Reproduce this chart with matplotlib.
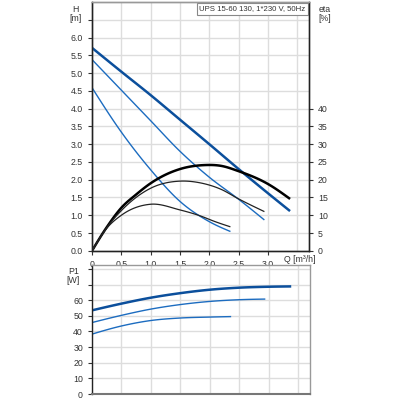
import matplotlib
matplotlib.use("Agg")
import matplotlib.pyplot as plt
import numpy as np

plt.rcParams['font.family'] = ['Liberation Sans', 'DejaVu Sans']

# Kennlinien UPS 15-60 130 (drei Drehzahlstufen)
q_h3 = [0, 0.5, 1.0, 1.5, 2.0, 2.5, 3.0, 3.36]
h3 = [5.71, 5.04, 4.38, 3.69, 3.0, 2.30, 1.62, 1.14]
q_h2 = [0, 0.5, 1.0, 1.5, 2.0, 2.5, 2.93]
h2 = [5.38, 4.52, 3.66, 2.80, 2.07, 1.45, 0.88]
q_h1 = [0, 0.5, 1.0, 1.5, 2.0, 2.35]
h1 = [4.59, 3.34, 2.28, 1.39, 0.82, 0.55]

q_e3 = [0, 0.25, 0.5, 0.75, 1.0, 1.5, 1.9, 2.2, 2.5, 3.0, 3.36]
eta3 = [0, 6.6, 12.1, 15.8, 19.0, 23.0, 24.1, 23.9, 22.4, 18.8, 14.8]
q_e2 = [0, 0.25, 0.5, 1.0, 1.5, 1.85, 2.2, 2.5, 2.93]
eta2 = [0, 6.5, 11.3, 17.6, 19.6, 19.1, 17.3, 14.6, 11.1]
q_e1 = [0, 0.25, 0.5, 1.0, 1.5, 1.85, 2.1, 2.35]
eta1 = [0, 6.3, 10.0, 13.1, 11.5, 9.8, 8.2, 6.8]

q_p3 = [0, 0.5, 1.0, 1.5, 2.0, 2.5, 3.0, 3.36]
p3 = [53.5, 57.8, 61.6, 64.5, 66.7, 68.0, 68.6, 68.8]
q_p2 = [0, 0.5, 1.0, 1.5, 2.0, 2.5, 2.93]
p2 = [45.7, 50.3, 54.3, 57.2, 59.2, 60.3, 60.7]
q_p1 = [0, 0.5, 1.0, 1.5, 2.0, 2.35]
p1 = [38.3, 43.5, 47.0, 48.6, 49.2, 49.5]

title = "UPS 15-60 130, 1*230 V, 50Hz"


def smooth(x, y, n=120):
    x = np.asarray(x, float)
    y = np.asarray(y, float)
    h = np.diff(x)
    d = np.diff(y) / h
    m = np.empty_like(y)
    m[1:-1] = (d[:-1] * h[1:] + d[1:] * h[:-1]) / (h[:-1] + h[1:])
    m[0] = 1.5 * d[0] - 0.5 * m[1]
    m[-1] = 1.5 * d[-1] - 0.5 * m[-2]
    xs = np.linspace(x[0], x[-1], n)
    i = np.clip(np.searchsorted(x, xs) - 1, 0, len(h) - 1)
    t = (xs - x[i]) / h[i]
    h00 = 2 * t**3 - 3 * t**2 + 1
    h10 = t**3 - 2 * t**2 + t
    h01 = -2 * t**3 + 3 * t**2
    h11 = t**3 - t**2
    ys = h00 * y[i] + h10 * h[i] * m[i] + h01 * y[i + 1] + h11 * h[i] * m[i + 1]
    return xs, ys


blue_dark = "#0b4f9c"
blue = "#1c6cc0"
grid_c = "#dddddd"
txt = "#333333"
fs = 6.3

fig = plt.figure(figsize=(4, 4), dpi=100)
ax = fig.add_axes([0.23, 0.373, 0.5425, 0.622])
axb = fig.add_axes([0.23, 0.015, 0.545, 0.3225])

# oberes Diagramm: Förderhöhe und Wirkungsgrad
ax.set_xlim(0, 3.7)
ax.set_ylim(0, 7.0)
ax.set_xticks(np.arange(0, 3.51, 0.5))
ax.set_xticklabels(["0", "0.5", "1.0", "1.5", "2.0", "2.5", "3.0", ""])
ax.set_yticks(np.arange(0, 6.51, 0.5))
ax.set_yticklabels([f"{v:.1f}" for v in np.arange(0, 6.01, 0.5)] + [""])
ax.grid(True, color=grid_c, lw=1.0)
ax.set_axisbelow(True)
ax.tick_params(labelsize=fs, colors=txt, length=3, width=0.8)
for t in ax.yaxis.get_major_ticks()[-1:]:
    t.tick1line.set_visible(False)
for t in ax.xaxis.get_major_ticks()[-1:]:
    t.tick1line.set_visible(False)

ax.plot(*smooth(q_h3, h3), color=blue_dark, lw=1.8)
ax.plot(*smooth(q_h2, h2), color=blue, lw=1.0)
ax.plot(*smooth(q_h1, h1), color=blue, lw=1.0)

ax.plot(*smooth(q_e3, np.array(eta3) / 10), color="black", lw=1.8)
ax.plot(*smooth(q_e2, np.array(eta2) / 10), color="#222222", lw=0.9)
ax.plot(*smooth(q_e1, np.array(eta1) / 10), color="#222222", lw=0.9)

axr = ax.twinx()
axr.set_ylim(0, 70)
axr.set_yticks(np.arange(0, 41, 5))
axr.tick_params(labelsize=fs, colors=txt, length=3, width=0.8)

for a in (ax, axr):
    for s in a.spines.values():
        s.set_color("#555555")
        s.set_linewidth(1.0)
    a.spines["top"].set_color("#999999")
axr.spines["left"].set_color("#222222")
axr.spines["bottom"].set_color("#222222")
axr.spines["right"].set_color("#222222")

ax.annotate(title, xy=(1, 1), xycoords="axes fraction",
            xytext=(-2.4, -2.4), textcoords="offset points",
            ha="right", va="top", fontsize=5.6, color=txt,
            bbox=dict(boxstyle="square,pad=0.35", fc="white", ec="#888888", lw=0.8))
ax.text(3.27, -0.13, "Q [m³/h]", ha="left", va="top", fontsize=fs, color=txt)
fig.text(0.188, 0.988, "H\n[m]", ha="center", va="top", fontsize=fs,
         color=txt, linespacing=1.0)
fig.text(0.812, 0.988, "eta\n[%]", ha="center", va="top", fontsize=fs,
         color=txt, linespacing=1.0)

# unteres Diagramm: Leistungsaufnahme
axb.set_xlim(0, 3.7)
axb.set_ylim(0, 82.5)
axb.set_xticks(np.arange(0, 3.51, 0.5))
axb.set_xticklabels([])
axb.tick_params(axis="x", length=0)
axb.set_yticks(np.arange(0, 81, 10))
axb.set_yticklabels([str(v) for v in range(0, 61, 10)] + ["", ""])
axb.grid(True, color=grid_c, lw=1.0)
axb.set_axisbelow(True)
axb.tick_params(axis="y", labelsize=fs, colors=txt, length=3, width=0.8)
for s in axb.spines.values():
    s.set_color("#999999")
    s.set_linewidth(1.0)
axb.spines["left"].set_color("#222222")
axb.spines["bottom"].set_color("#777777")
axb.spines["bottom"].set_linewidth(1.5)

axb.plot(*smooth(q_p3, p3), color=blue_dark, lw=1.8)
axb.plot(*smooth(q_p2, p2), color=blue, lw=1.0)
axb.plot(*smooth(q_p1, p1), color=blue, lw=1.0)

fig.text(0.183, 0.333, "P1\n[W]", ha="center", va="top", fontsize=fs,
         color=txt, linespacing=1.0)

fig.savefig("out.png", dpi=100)
